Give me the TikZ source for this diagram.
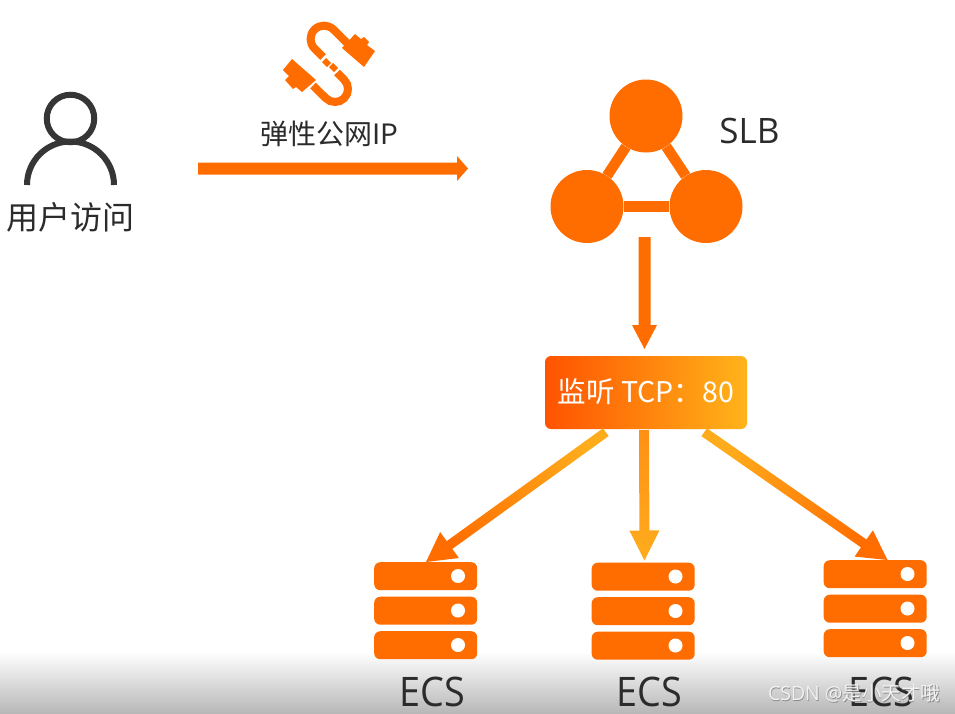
\documentclass[tikz,border=0pt]{standalone}
\usepackage{fontspec}
\usetikzlibrary{calc,positioning}
\setmainfont{Open Sans}
\newfontfamily\cjk{Noto Sans CJK SC}
\definecolor{org}{HTML}{FF6D00}
\definecolor{ylw}{HTML}{FFAC1C}
\definecolor{ink}{HTML}{2B2B2B}
\definecolor{red1}{HTML}{FF5300}
\definecolor{mid1}{HTML}{FF9015}
\definecolor{end1}{HTML}{FFB41A}
\tikzset{
  x=1pt,y=-1pt,
  bar/.style={draw=none,fill=org,rounded corners=6pt,minimum width=103pt,minimum height=28pt,inner sep=0pt},
  led/.style={circle,fill=white,minimum size=14pt,inner sep=0pt},
  hub/.style={circle,fill=org,minimum size=73pt,inner sep=0pt},
  spoke/.style={draw=org,line width=10.5pt},
  lbl/.style={text=ink,inner sep=0pt,font=\fontsize{32}{32}\selectfont},
  ecs/.style={text=ink,inner sep=0pt},
  person/.style={draw=ink!95,line width=6pt},
}
% gradient arrow between two named coordinates: from, to, shaft half width, head length, head half width, colours, angle
\newcommand{\gradarrow}[8]{%
  \coordinate (hb) at ($(#2)!#4pt!(#1)$);
  \path[top color=#6,bottom color=#7,shading angle=#8]
    ($(#1)!#3pt!90:(#2)$) -- ($(hb)!#3pt!-90:(#1)$) -- ($(hb)!#5pt!-90:(#1)$) -- (#2)
    -- ($(hb)!#5pt!90:(#1)$) -- ($(hb)!#3pt!90:(#1)$) -- ($(#1)!#3pt!-90:(#2)$) -- cycle;
}
\newcommand{\server}[3]{% name, left x, top y
  \foreach \i/\dy in {a/0,b/34.5,c/69}{
    \node[bar,anchor=north west] (#1\i) at (#2,#3+\dy) {};
    \node[led] (#1\i d) at (#2+84,#3+\dy+14) {};
  }
}
\begin{document}
\begin{tikzpicture}
\useasboundingbox (0,0) rectangle (955,713);
\fill[white] (0,0) rectangle (955,713);
\shade[top color=white,middle color=black!15,bottom color=black!28] (0,652) rectangle (955,713);

% user
\coordinate (headc) at (70.5,118.5);
\node[circle,person,minimum size=47.5pt,inner sep=0pt] (head) at (headc) {};
\draw[person] (27,185) arc[start angle=180,end angle=360,radius=43.5];
\node[lbl] (user) at (70,217) {\cjk 用户访问};

% plug icon
\fill[org] (342,48) -- (355,34) -- (361,39) -- (364,37) -- (369,42) -- (367,45) -- (375,51) -- (364,67) -- cycle;
\fill[org] (292,59) -- (316,80) -- (302,92) -- (296,87) -- (293,89) -- (285,80) -- (289,76) -- (283,70) -- cycle;
\draw[org,line width=8pt] (323,57) -- (314.5,48.5) arc[start angle=135,end angle=315,radius=13.4] -- (349,45);
\draw[org,line width=8pt] (337,72.5) -- (344.2,79.8) arc[start angle=-45,end angle=135,radius=13] -- (313,85.5);
\fill[org] (326,58) -- (331,63) -- (327,67) -- (322,62) -- cycle;
\fill[org] (333,63) -- (338,68) -- (334,72) -- (329,67) -- cycle;
\node[lbl,font=\fontsize{28}{28}\selectfont] (eip) at (329,134) {\cjk 弹性公网IP};

% SLB
\begin{scope}
\clip (500,60) rectangle (742.5,260);
\node[hub] (h1) at (646,116) {};
\node[hub] (h2) at (587,206.5) {};
\node[hub] (h3) at (706,206.5) {};
\draw[spoke] (h1) -- (h2);
\draw[spoke] (h1) -- (h3);
\draw[spoke] (h2) -- (h3);
\end{scope}
\node[ecs,font=\fontsize{35}{35}\selectfont] (slb) at (749.5,131) {SLB};

% public arrow
\coordinate (a0) at (198,168.5);
\coordinate (a1) at (468,168.5);
\gradarrow{a0}{a1}{6}{11}{12.5}{org}{org}{90}
\coordinate (b0) at (644.5,237);
\coordinate (b1) at (644.5,349);
\gradarrow{b0}{b1}{6}{24}{12.5}{org}{org}{0}

% listener
\node[rounded corners=6pt,minimum width=202pt,minimum height=73pt,inner sep=0pt,
      left color=red1,middle color=mid1,right color=end1] (box) at (646,392.5) {};
\node[text=white,inner sep=0pt,font=\fontsize{28.5}{28.5}\selectfont] (boxt) at (646,392) {\cjk 监听 TCP：80};

% servers
\server{s}{374}{562}
\server{t}{591.5}{562.5}
\server{u}{823.5}{560}

% branches
\coordinate (l0) at ($(box.south west)+(61,3)$);
\coordinate (l1) at ($(sa.north west)+(52,0)$);
\gradarrow{l0}{l1}{4.8}{29}{16}{ylw}{org}{-55}
\coordinate (m0) at ($(box.south)+(-2,1)$);
\coordinate (m1) at ($(ta.north west)+(53,-2)$);
\gradarrow{m0}{m1}{5}{30}{15}{mid1}{ylw}{0}
\coordinate (r0) at ($(box.south east)+(-43,3)$);
\coordinate (r1) at ($(ua.north west)+(64,0)$);
\gradarrow{r0}{r1}{4.8}{29}{16}{ylw}{org}{55}

% labels
\foreach \n/\xx in {e1/432,e2/649.5,e3/881}{
  \node[ecs] (\n) at (\xx,691.5) {\scalebox{1.02}[1.1]{\fontsize{37}{37}\selectfont ECS}};
}
\node[text=black!45,inner sep=0pt,font=\fontsize{19.5}{19.5}\selectfont] (wm0) at (854.7,693.7) {CSDN @\cjk 是小天才哦};
\node[text=white!95!black,inner sep=0pt,font=\fontsize{19.5}{19.5}\selectfont] (wm) at (854,693) {CSDN @\cjk 是小天才哦};
\end{tikzpicture}
\end{document}
